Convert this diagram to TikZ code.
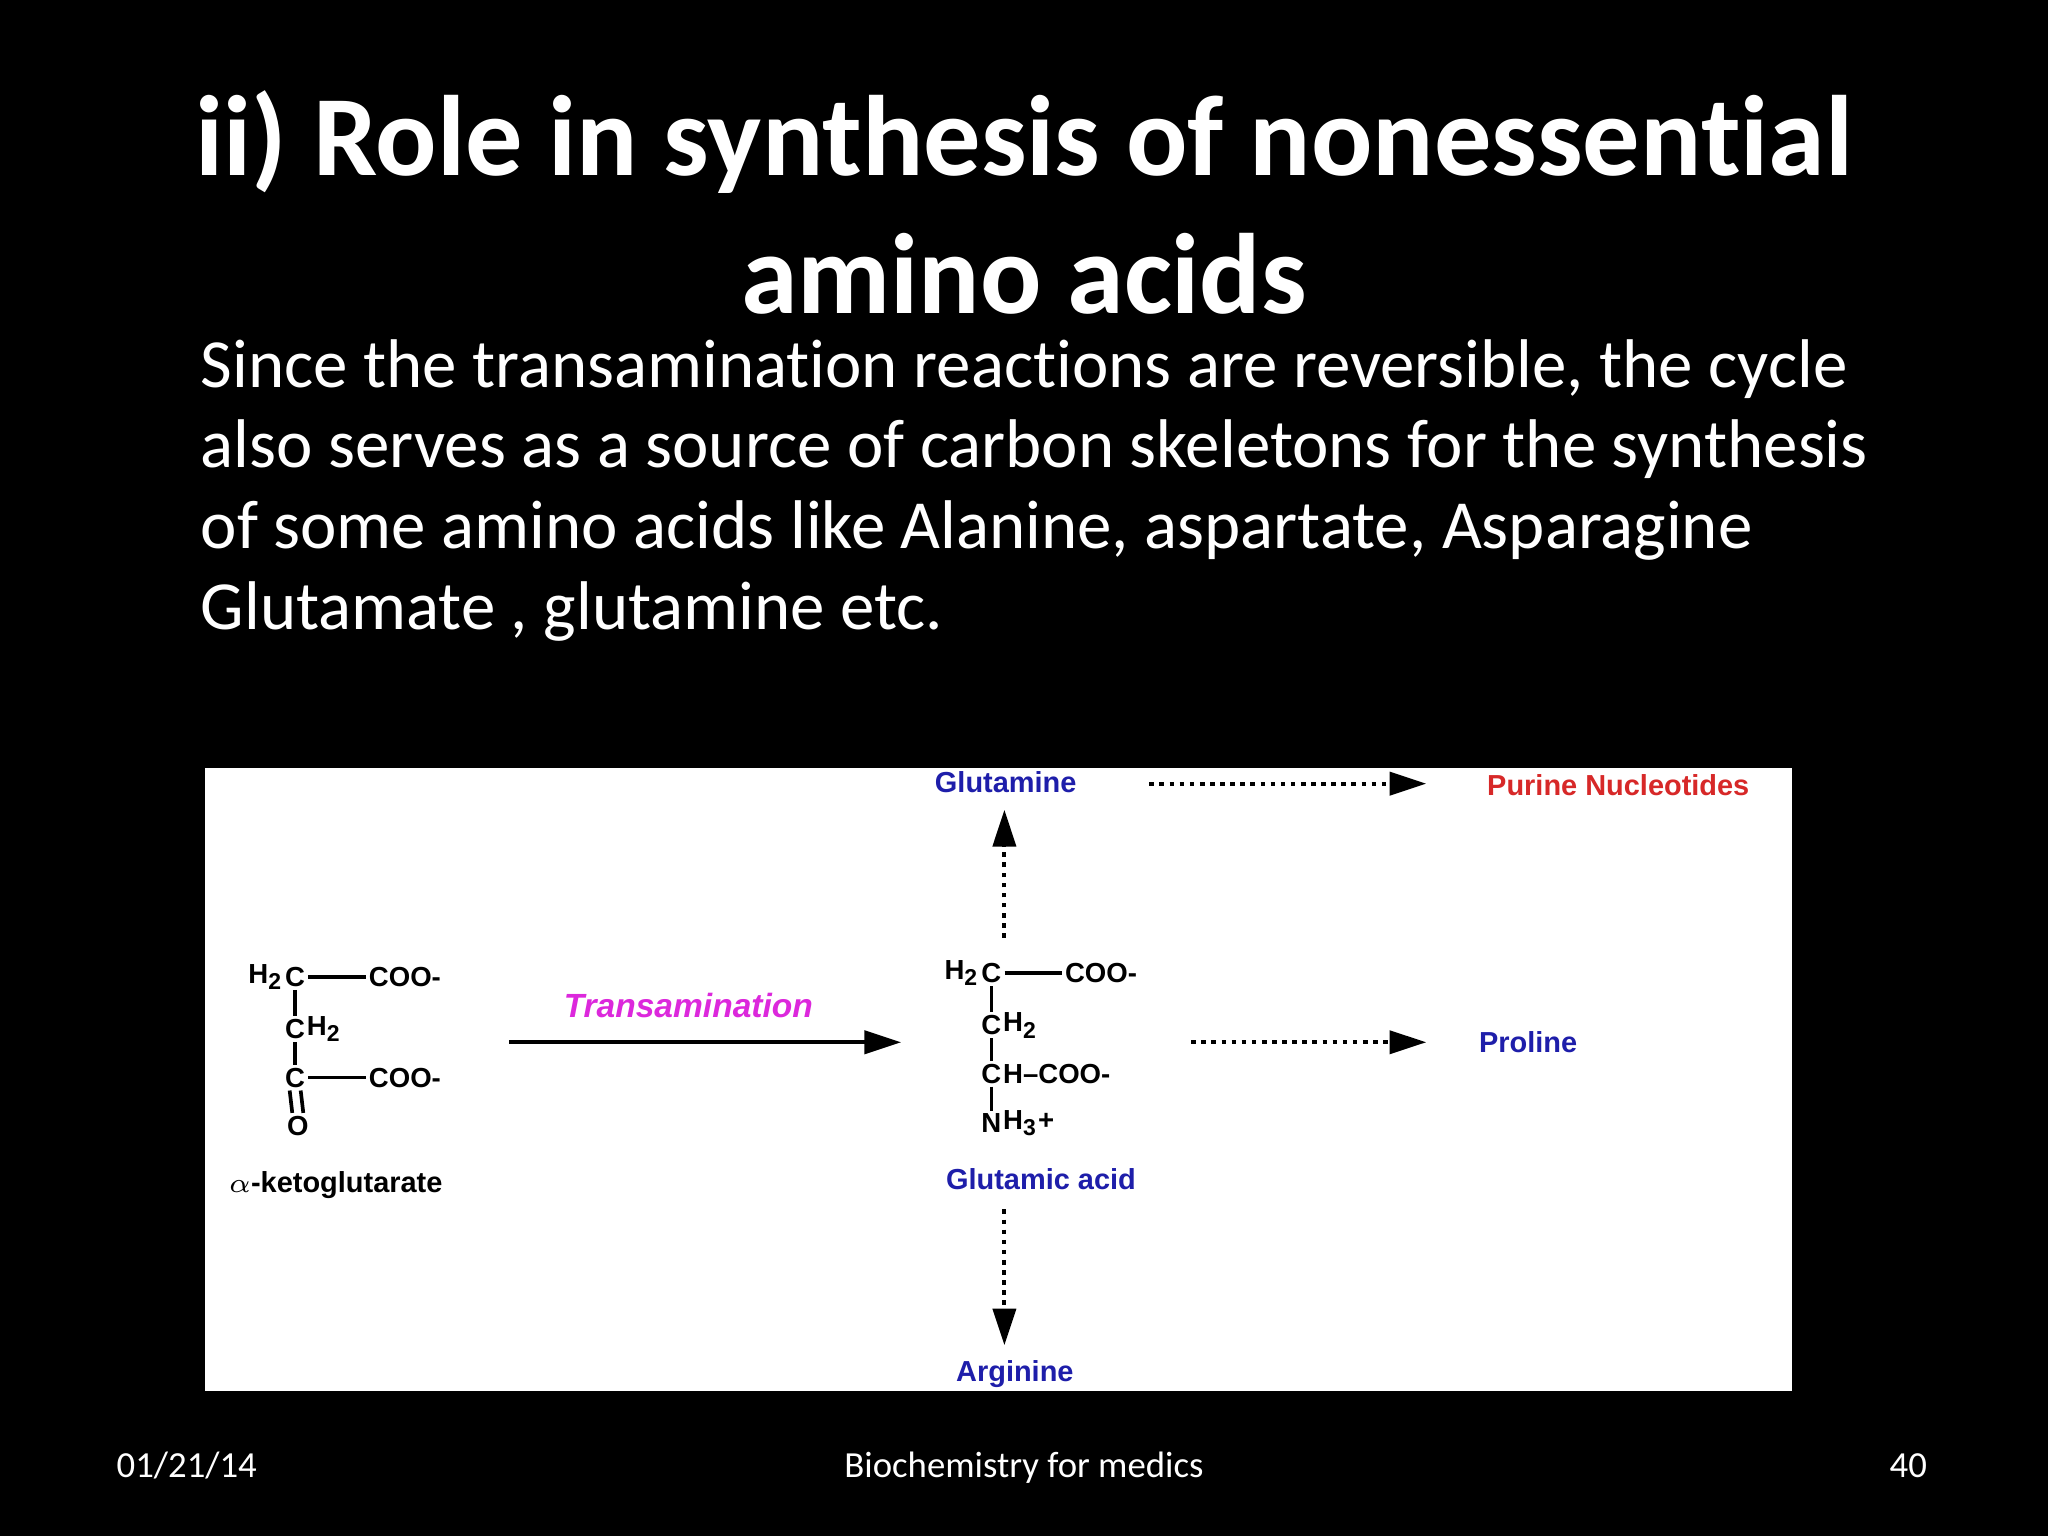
\documentclass[tikz,border=0pt]{standalone}
\usepackage{fontspec}
\setmainfont{Carlito}[Ligatures={NoCommon}]
\newfontfamily\chem{Liberation Sans}
\usetikzlibrary{arrows.meta}
\definecolor{dblue}{RGB}{30,30,170}
\definecolor{dred}{RGB}{215,40,40}
\definecolor{mag}{RGB}{220,40,220}
\begin{document}
\begin{tikzpicture}[x=0.01cm,y=-0.01cm,
  ch/.style={font=\chem\bfseries\fontsize{6}{7}\selectfont,inner sep=0.5pt},
  sub/.style={font=\chem\bfseries\fontsize{6}{7}\selectfont,inner sep=0pt},
  lbl/.style={font=\chem\bfseries\fontsize{6.3}{7}\selectfont,inner sep=1pt},
  bond/.style={line width=0.8pt},
  solidarr/.style={line width=0.9pt,-{Triangle[length=8pt,width=5pt]}},
  dotarr/.style={line width=0.9pt,dash pattern=on 1pt off 1.2pt,-{Triangle[length=8pt,width=5pt,sep=0pt]}}]
\fill[black] (0,0) rectangle (1568,1176);
\useasboundingbox (0,0) rectangle (1568,1176);
\node[white,font=\bfseries\fontsize{24.9}{30}\selectfont,align=center] (title) at (784,155) {ii) Role in synthesis of nonessential\\amino acids};
\node[white,anchor=north west,font=\fontsize{15}{17.6}\selectfont,align=left,inner sep=0pt] (body) at (153,259) {Since the transamination reactions are reversible, the cycle\\also serves as a source of carbon skeletons for the synthesis\\of some amino acids like Alanine, aspartate, Asparagine\\Glutamate , glutamine etc.};
\node[white,font=\fontsize{8}{9}\selectfont,anchor=base] (date) at (143,1131) {01/21/14};
\node[white,font=\fontsize{8}{9}\selectfont,anchor=base] (foot) at (784,1131) {Biochemistry for medics};
\node[white,font=\fontsize{8}{9}\selectfont,anchor=base] (pg) at (1461,1131) {40};
\fill[white] (157,588) rectangle (1372,1065);
% alpha-ketoglutarate
\node[ch] (k1) at (226,748) {C};
\node[sub,anchor=east] (k1h) at ([xshift=0.5pt]k1.west) {H\textsubscript{2}};
\node[ch] (k1r) at (310,748) {COO-};
\node[ch] (k2) at (226,788) {C};
\node[sub,anchor=west] (k2h) at ([xshift=-0.5pt]k2.east) {H\textsubscript{2}};
\node[ch] (k3) at (226,825) {C};
\node[ch] (k3r) at (310,825) {COO-};
\node[ch] (k4) at (228,862) {O};
\draw[bond] (k1) -- (k1r);
\draw[bond] (k1) -- (k2);
\draw[bond] (k2) -- (k3);
\draw[bond] (k3) -- (k3r);
\draw[bond] ([xshift=-1.2pt]k3.south) -- ([xshift=-1.2pt]k4.north);
\draw[bond] ([xshift=1.2pt]k3.south) -- ([xshift=1.2pt]k4.north);
\node[lbl] (akg) at (257,907) {$\alpha$-ketoglutarate};
% arrow
\coordinate (ta) at (390,798);
\coordinate (tb) at (690,798);
\draw[solidarr] (ta) -- (tb);
\node[font=\chem\bfseries\itshape\fontsize{7.3}{8}\selectfont,text=mag] (trans) at (527,770) {Transamination};
% glutamic acid
\node[ch] (g1) at (759,745) {C};
\node[sub,anchor=east] (g1h) at ([xshift=0.5pt]g1.west) {H\textsubscript{2}};
\node[ch] (g1r) at (843,745) {COO-};
\node[ch] (g2) at (759,785) {C};
\node[sub,anchor=west] (g2h) at ([xshift=-0.5pt]g2.east) {H\textsubscript{2}};
\node[ch] (g3) at (759,822) {C};
\node[sub,anchor=west] (g3r) at ([xshift=-0.5pt]g3.east) {H\textendash COO-};
\node[ch] (g4) at (759,860) {N};
\node[sub,anchor=west] (g4r) at ([xshift=-0.5pt]g4.east) {H\textsubscript{3}+};
\draw[bond] (g1) -- (g1r);
\draw[bond] (g1) -- (g2);
\draw[bond] (g2) -- (g3);
\draw[bond] (g3) -- (g4);
\node[lbl,text=dblue] (glu) at (797,903) {Glutamic acid};
% products
\node[lbl,text=dblue] (gln) at (770,599) {Glutamine};
\node[lbl,text=dred] (pur) at (1239,601) {Purine Nucleotides};
\node[lbl,text=dblue] (pro) at (1170,798) {Proline};
\node[lbl,text=dblue] (arg) at (777,1052) {Arginine};
\coordinate (u1) at (769,718);
\coordinate (u2) at (769,620);
\draw[dotarr] (u1) -- (u2);
\coordinate (p1) at (880,600);
\coordinate (p2) at (1092,600);
\draw[dotarr] (p1) -- (p2);
\coordinate (r1) at (912,798);
\coordinate (r2) at (1092,798);
\draw[dotarr] (r1) -- (r2);
\coordinate (d1) at (769,926);
\coordinate (d2) at (769,1030);
\draw[dotarr] (d1) -- (d2);
\end{tikzpicture}
\end{document}
